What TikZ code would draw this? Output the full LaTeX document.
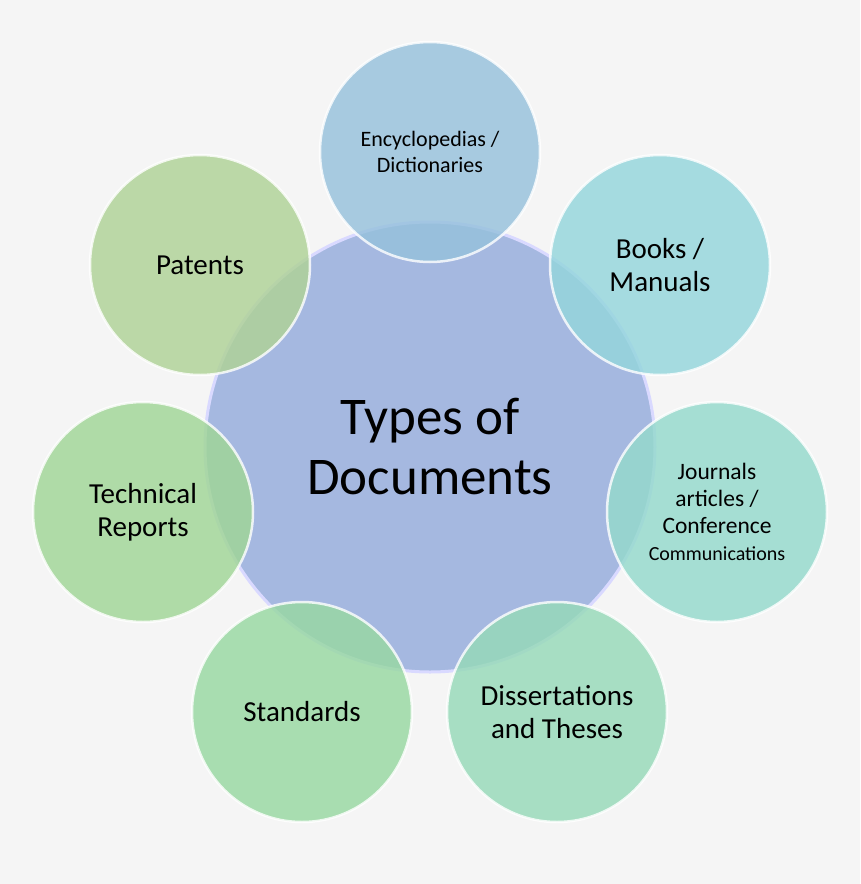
\documentclass[tikz,border=0pt]{standalone}
\usepackage{fontspec}
\setmainfont{Carlito}
\begin{document}
\begin{tikzpicture}[x=1pt,y=-1pt,
  sat/.style={circle,minimum size=220pt,inner sep=0pt,draw=white,line width=2.5pt,fill opacity=0.82,draw opacity=0.8,text opacity=1,align=center,font=\fontsize{29}{33}\selectfont},
  ctr/.style={circle,minimum size=450pt,inner sep=0pt,draw=white!85!blue,line width=3pt,fill opacity=0.85,text opacity=1,align=center,font=\fontsize{53}{60}\selectfont}]
\fill[gray!8] (0,0) rectangle (860,884);
\useasboundingbox (0,0) rectangle (860,884);
\node[ctr,fill={rgb,255:red,152;green,174;blue,221}] (c) at (430,447) {Types of\\Documents};
\node[sat,fill={rgb,255:red,150;green,193;blue,220},font=\fontsize{22}{26}\selectfont] (enc) at (430,152) {Encyclopedias /\\Dictionaries};
\node[sat,fill={rgb,255:red,148;green,214;blue,220}] (book) at (660,265) {Books /\\Manuals};
\node[sat,fill={rgb,255:red,148;green,218;blue,204},font=\fontsize{23.5}{27}\selectfont] (jour) at (717,512) {Journals\\articles /\\Conference\\{\fontsize{20}{22}\selectfont Communications}};
\node[sat,fill={rgb,255:red,150;green,218;blue,184}] (diss) at (557,712) {Dissertations\\and Theses};
\node[sat,fill={rgb,255:red,152;green,216;blue,162}] (std) at (302,712) {Standards};
\node[sat,fill={rgb,255:red,160;green,214;blue,150}] (tech) at (143,512) {Technical\\Reports};
\node[sat,fill={rgb,255:red,175;green,210;blue,150}] (pat) at (200,265) {Patents};
\end{tikzpicture}
\end{document}
